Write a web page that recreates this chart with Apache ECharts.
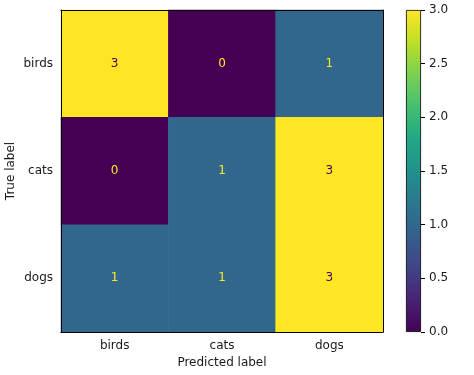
<!DOCTYPE html>
<html><head><meta charset="utf-8">
<script src="https://cdn.jsdelivr.net/npm/echarts@6/dist/echarts.min.js"></script>
<style>html,body{margin:0;padding:0;background:#fff}#c{width:474px;height:375px}</style>
</head><body><div id="c"></div>
<script>
const predictedLabels = ['birds', 'cats', 'dogs'];
const trueLabels = ['birds', 'cats', 'dogs'];
const matrix = [
  [3, 0, 1],
  [0, 1, 3],
  [1, 1, 3]
];
const colorbarTicks = [0, 0.5, 1.0, 1.5, 2.0, 2.5, 3.0];
const vMin = 0, vMax = 3;

const viridis = ['#440154','#482475','#414487','#355f8d','#2a788e','#21918c','#22a884','#44bf70','#7ad151','#bddf26','#fde725'];
const font = 'DejaVu Sans';
const txt = '#1a1a1a';
const fs = 12;

const heatData = [];
matrix.forEach((row, r) => row.forEach((v, c) => {
  heatData.push({ value: [c, r, v], label: { color: v < (vMin + vMax) / 2 ? viridis[10] : viridis[0] } });
}));

const chart = echarts.init(document.getElementById('c'), null, { renderer: 'canvas' });
chart.setOption({
  animation: false,
  textStyle: { fontFamily: font },
  grid: [
    { left: 61, top: 10, width: 322, height: 322, containLabel: false, outerBoundsMode: 'none' },
    { left: 406, top: 10, width: 15, height: 322, containLabel: false, outerBoundsMode: 'none' }
  ],
  visualMap: { show: false, min: vMin, max: vMax, seriesIndex: 0, dimension: 2, inRange: { color: viridis } },
  xAxis: [
    { type: 'category', gridIndex: 0, data: predictedLabels, position: 'bottom', z: 10,
      name: 'Predicted label', nameLocation: 'middle', nameGap: 25, nameMoveOverlap: false,
      nameTextStyle: { fontSize: fs, color: txt, fontFamily: font },
      axisLine: { lineStyle: { color: '#000', width: 1 } },
      axisTick: { alignWithLabel: true, length: 4, lineStyle: { color: '#000' } },
      axisLabel: { fontSize: fs, color: txt, margin: 8, fontFamily: font },
      splitLine: { show: false } },
    { type: 'category', gridIndex: 0, data: predictedLabels, position: 'top', z: 10,
      axisLine: { lineStyle: { color: '#000', width: 1 } }, axisTick: { show: false }, axisLabel: { show: false } },
    { type: 'category', gridIndex: 1, data: ['cb'], show: false }
  ],
  yAxis: [
    { type: 'category', gridIndex: 0, data: trueLabels, inverse: true, position: 'left', z: 10,
      name: 'True label', nameLocation: 'middle', nameGap: 44, nameMoveOverlap: false,
      nameTextStyle: { fontSize: fs, color: txt, fontFamily: font },
      axisLine: { lineStyle: { color: '#000', width: 1 } },
      axisTick: { alignWithLabel: true, length: 4, lineStyle: { color: '#000' } },
      axisLabel: { fontSize: fs, color: txt, margin: 8, fontFamily: font },
      splitLine: { show: false } },
    { type: 'category', gridIndex: 0, data: trueLabels, inverse: true, position: 'right', z: 10,
      axisLine: { lineStyle: { color: '#000', width: 1 } }, axisTick: { show: false }, axisLabel: { show: false } },
    { type: 'value', gridIndex: 1, min: vMin, max: vMax, interval: 0.5, position: 'right', z: 10,
      axisLine: { show: false },
      axisTick: { show: true, length: 4, lineStyle: { color: '#000' } },
      axisLabel: { fontSize: fs, color: txt, margin: 8, fontFamily: font, formatter: v => v.toFixed(1) },
      splitLine: { show: false } }
  ],
  series: [
    { type: 'heatmap', xAxisIndex: 0, yAxisIndex: 0, data: heatData,
      label: { show: true, fontSize: fs, fontFamily: font },
      itemStyle: { borderWidth: 0 }, emphasis: { disabled: true } },
    { type: 'bar', xAxisIndex: 2, yAxisIndex: 2, data: [vMax], barWidth: '100%', silent: true,
      itemStyle: {
        borderColor: '#000', borderWidth: 0.8,
        color: new echarts.graphic.LinearGradient(0, 1, 0, 0, viridis.map((c, i) => ({ offset: i / (viridis.length - 1), color: c })))
      } }
  ]
});
</script></body></html>
